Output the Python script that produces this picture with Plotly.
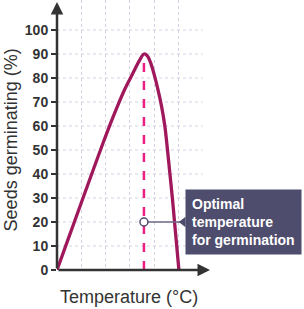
import plotly.graph_objects as go

# Data
temps = [0, 0.5, 1.0, 1.5, 1.9, 2.2, 2.5, 2.8, 3.1, 3.3, 3.45, 3.58,
         3.72, 3.85, 4.0, 4.15, 4.3, 4.44, 4.55, 4.65, 4.75, 4.84, 4.93, 5.02]
germ = [0, 14, 28, 42, 53, 61, 68.5, 75.5, 81.5, 85.5, 88.3, 90,
        89.2, 86.5, 81.5, 75.5, 68.5, 60, 50, 40, 30, 20, 10, 0]
opt_temp = 3.58
opt_germ = 90
marker_level = 20
y_ticks = [0, 10, 20, 30, 40, 50, 60, 70, 80, 90, 100]
x_grid = [1, 2, 3, 4, 5]
label_text = "Optimal<br>temperature<br>for germination"

AXIS = "#333333"
GRID = "#d3d0e3"
CURVE = "#a0185c"
PINK = "#ec1f82"
BOX = "#4f4d6e"
FONT = "Liberation Sans, Arial"

fig = go.Figure()

# horizontal grid lines
for t in y_ticks[1:]:
    fig.add_shape(type="line", x0=0, x1=6.0, y0=t, y1=t, xref="x", yref="y",
                  line=dict(color=GRID, width=1, dash="dot"), layer="below")

# dashed optimum line
fig.add_trace(go.Scatter(x=[opt_temp, opt_temp], y=[0, opt_germ], mode="lines",
                         line=dict(color=PINK, width=2.5, dash="dash"), hoverinfo="skip"))

# curve
fig.add_trace(go.Scatter(x=temps, y=germ, mode="lines",
                         line=dict(color=CURVE, width=3.3, shape="spline", smoothing=1.0),
                         hoverinfo="skip"))

# connector to label
fig.add_trace(go.Scatter(x=[opt_temp, 5.15], y=[marker_level, marker_level], mode="lines",
                         line=dict(color="#6b6985", width=1.5), hoverinfo="skip"))
fig.add_trace(go.Scatter(x=[5.2], y=[marker_level], mode="markers",
                         marker=dict(symbol="triangle-left", size=9, color=BOX), hoverinfo="skip"))
fig.add_trace(go.Scatter(x=[opt_temp], y=[marker_level], mode="markers",
                         marker=dict(symbol="circle", size=8, color="white",
                                     line=dict(color=BOX, width=1.5)), hoverinfo="skip"))

# axis arrows
fig.add_annotation(x=0, y=111.7, ax=0, ay=0, xref="x", yref="y", axref="x", ayref="y",
                   text="", showarrow=True, arrowhead=2, arrowsize=1, arrowwidth=2.5,
                   arrowcolor=AXIS)
fig.add_annotation(x=6.3, y=0, ax=0, ay=0, xref="x", yref="y", axref="x", ayref="y",
                   text="", showarrow=True, arrowhead=2, arrowsize=1, arrowwidth=2.5,
                   arrowcolor=AXIS)

# label box
fig.add_annotation(x=5.27, y=marker_level, xref="x", yref="y", xanchor="left", yanchor="middle",
                   text="<b>" + label_text + "</b>", showarrow=False, align="left",
                   font=dict(family=FONT, size=14, color="white"),
                   bgcolor=BOX, borderpad=6)

# axis titles
fig.add_annotation(x=0, y=0.48, xref="paper", yref="paper", xanchor="center", yanchor="middle",
                   xshift=-46, text="Seeds germinating (%)", textangle=-90, showarrow=False,
                   font=dict(family=FONT, size=18, color=AXIS))
fig.add_annotation(x=0.47, y=0, xref="paper", yref="paper", xanchor="center", yanchor="middle",
                   yshift=-27, text="Temperature (°C)", showarrow=False,
                   font=dict(family=FONT, size=18, color=AXIS))

fig.update_layout(
    width=304, height=309,
    margin=dict(l=57, r=94, t=0, b=39),
    paper_bgcolor="white", plot_bgcolor="white",
    showlegend=False,
    xaxis=dict(range=[0, 6.3], tickvals=x_grid, showticklabels=False, ticks="",
               showgrid=True, gridcolor=GRID, gridwidth=1, griddash="dot",
               zeroline=False, showline=False, fixedrange=True),
    yaxis=dict(range=[0, 112.5], tickvals=y_ticks,
               ticktext=["<b>%d</b>" % t for t in y_ticks],
               ticks="outside", ticklen=5, tickwidth=2, tickcolor=AXIS,
               tickfont=dict(family=FONT, size=14, color=AXIS),
               showgrid=False, zeroline=False, showline=False, fixedrange=True),
)

fig.write_html("out.html")
